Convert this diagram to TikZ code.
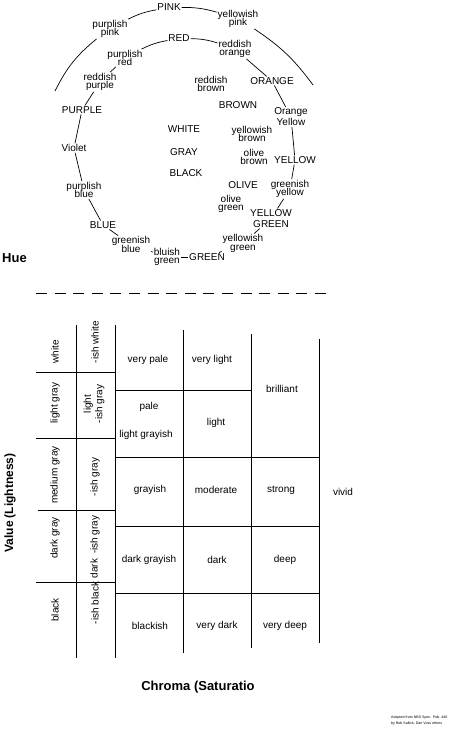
\documentclass[tikz,border=0pt]{standalone}
\usepackage{fontspec}
\setmainfont{Liberation Sans}
\newcommand\tightlines{\setlength{\lineskiplimit}{-10pt}\setlength{\lineskip}{0pt}}
\begin{document}
\begin{tikzpicture}[x=1pt,y=-1pt,
 lbl/.style={font={\fontsize{10}{8.5}\selectfont\tightlines},align=center,inner sep=0.8pt},
 capl/.style={font={\fontsize{10}{11}\selectfont\tightlines},align=center,inner sep=0.8pt},
 conn/.style={line width=0.7pt},
 gridline/.style={line width=0.9pt},
 ttl/.style={font=\fontsize{13}{13}\selectfont\bfseries,inner sep=0pt},
 cell/.style={font=\fontsize{10}{12}\selectfont,align=center,inner sep=0pt},
 vcell/.style={font=\fontsize{10}{12}\selectfont,align=center,inner sep=0pt,rotate=90},
 note/.style={font=\fontsize{3.6}{5.5}\selectfont,align=left,inner sep=0pt}]
\useasboundingbox (0,0) rectangle (470,730);

% ---- hue circle labels ----
\node[capl] (pink) at (169,7) {PINK};
\node[lbl] (ypink) at (238,19) {yellowish\\pink};
\node[lbl] (ppink) at (110,29) {purplish\\pink};
\node[capl] (red) at (179,38) {RED};
\node[lbl] (rorange) at (235,49) {reddish\\orange};
\node[lbl] (pred) at (125,58) {purplish\\red};
\node[lbl] (rpurple) at (100,82) {reddish\\purple};
\node[lbl] (rbrown) at (211,84) {reddish\\brown};
\node[capl] (orange) at (272,81) {ORANGE};
\node[capl] (brown) at (238,105) {BROWN};
\node[capl] (purple) at (82,110) {PURPLE};
\node[capl] (oyellow) at (291,117) {Orange\\Yellow};
\node[capl] (white) at (184,129) {WHITE};
\node[lbl] (ybrown) at (252,134) {yellowish\\brown};
\node[lbl] (violet) at (74,148) {Violet};
\node[capl] (gray) at (184,152) {GRAY};
\node[lbl] (obrown) at (254,157) {olive\\brown};
\node[capl] (yellow) at (295,160) {YELLOW};
\node[capl] (black) at (186,173) {BLACK};
\node[capl] (olive) at (243,185) {OLIVE};
\node[lbl] (gyellow) at (290,189) {greenish\\yellow};
\node[lbl] (pblue) at (84,190) {purplish\\blue};
\node[lbl] (ogreen) at (231,204) {olive\\green};
\node[capl] (ygreen) at (271,218.5) {YELLOW\\GREEN};
\node[capl] (blue) at (103,225) {BLUE};
\node[lbl] (gblue) at (131,244.5) {greenish\\blue};
\node[lbl] (ylgreen) at (243,243.5) {yellowish\\green};
\node[lbl] (bgreen) at (167,257) {bluish\\green};
\node[capl] (green) at (207,257) {GREEN};
\node[ttl,anchor=west] (hue) at (2,258) {Hue};

\coordinate (o1) at (55,91);
\coordinate (o2) at (313,85);

% outer arc
\draw[conn] (pink) to[bend right=8] (ppink);
\draw[conn] (ppink) to[bend right=12] (o1);
\draw[conn] (pink) to[bend left=8] (ypink);
\draw[conn] (ypink) to[bend left=10] (o2);
% inner circle
\draw[conn] (red) to[bend right=8] (pred);
\draw[conn] (red) to[bend left=8] (rorange);
\draw[conn] (pred) -- (rpurple);
\draw[conn] (rorange) -- (orange);
\draw[conn] (rpurple) -- (purple);
\draw[conn] (orange) -- (oyellow);
\draw[conn] (purple) -- (violet);
\draw[conn] (violet) -- (pblue);
\draw[conn] (oyellow) -- (yellow);
\draw[conn] (yellow) -- (gyellow);
\draw[conn] (gyellow) -- (ygreen);
\draw[conn] (ygreen) -- (ylgreen);
\draw[conn] (ylgreen) -- (green);
\draw[conn] (green) -- (bgreen);
\draw[conn] (bgreen) -- (gblue);
\draw[conn] (gblue) -- (blue);
\draw[conn] (blue) -- (pblue);

% dashed separator
\draw[gridline,dash pattern=on 11pt off 7.6pt] (36,293) -- (333,293);

% ---- table grid ----
\draw[gridline] (76,325) -- (76,658);
\draw[gridline] (115,325) -- (115,658);
\draw[gridline] (183,330) -- (183,653);
\draw[gridline] (251,334) -- (251,648);
\draw[gridline] (319,339) -- (319,643);
\draw[gridline] (36,372) -- (115,372);
\draw[gridline] (36,438) -- (115,438);
\draw[gridline] (38,510) -- (115,510);
\draw[gridline] (36,582) -- (115,582);
\draw[gridline] (115,390) -- (251,390);
\draw[gridline] (115,457) -- (319,457);
\draw[gridline] (115,526) -- (319,526);
\draw[gridline] (115,593) -- (319,593);

% left column labels
\node[vcell] (cwhite) at (55,352) {white};
\node[vcell] (iwhite) at (95,342) {-ish white};
\node[vcell] (clgray) at (55,403) {light gray};
\node[vcell,font=\fontsize{10}{11.5}\selectfont] (ilgray) at (94,404) {light\\-ish gray};
\node[vcell] (cmgray) at (55,475) {medium gray};
\node[vcell] (imgray) at (95,477) {-ish gray};
\node[vcell] (cdgray) at (55,538) {dark gray};
\node[vcell] (idgray) at (95,547) {dark\hspace{5pt}-ish gray};
\node[vcell] (cblack) at (55,610) {black};
\node[vcell] (iblack) at (95,603) {-ish black};

% cells
\node[cell] (vpale) at (148,360) {very pale};
\node[cell] (vlight) at (212,360) {very light};
\node[cell] (brill) at (282,389) {brilliant};
\node[cell] (pale) at (149,407) {pale};
\node[cell] (lgrayish) at (146,435) {light grayish};
\node[cell] (light) at (216,423) {light};
\node[cell] (grayish) at (150,490) {grayish};
\node[cell] (moderate) at (216,490) {moderate};
\node[cell] (strong) at (281,490) {strong};
\node[cell] (vivid) at (343,492) {vivid};
\node[cell] (dgrayish) at (149,560) {dark grayish};
\node[cell] (dark) at (217,560) {dark};
\node[cell] (deep) at (285,560) {deep};
\node[cell] (blackish) at (150,626) {blackish};
\node[cell] (vdark) at (217,626) {very dark};
\node[cell] (vdeep) at (285,626) {very deep};

% axis titles
\node[ttl,rotate=90,font=\fontsize{12}{12}\selectfont\bfseries] (value) at (10,503) {Value (Lightness)};
\node[ttl] (chroma) at (198,687) {Chroma (Saturatio};

% source note
\node[note,anchor=west] (src) at (391,720.5) {Adapted from NBS Spec. Pub. 440\\by Bob Sallick, Dan Voss others};
\end{tikzpicture}
\end{document}
